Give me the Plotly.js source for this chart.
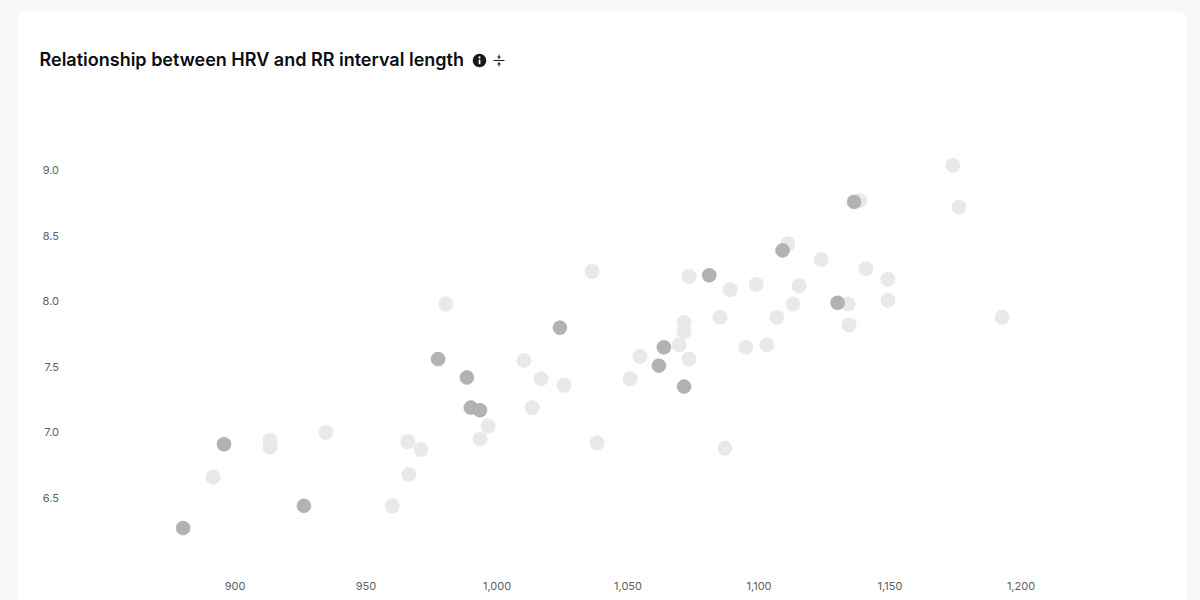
<!DOCTYPE html>
<html>
<head>
<meta charset="utf-8">
<script src="https://cdn.plot.ly/plotly-3.0.1.min.js"></script>
<style>
html,body{margin:0;padding:0;width:1200px;height:600px;overflow:hidden;background:#f8f8f8;}
#card{position:absolute;left:17px;top:11px;width:1170px;height:620px;background:#fff;border-radius:9px;}
#chart{position:absolute;left:0;top:0;width:1200px;height:600px;}
#icons{position:absolute;left:472px;top:53px;}
</style>
</head>
<body>
<div id="card"></div>
<div id="chart"></div>
<svg id="icons" width="36" height="16" viewBox="0 0 36 16">
  <circle cx="7.5" cy="7.5" r="6.8" fill="#14181f"/>
  <rect x="6.7" y="6.6" width="1.7" height="4.6" fill="#fff"/>
  <circle cx="7.5" cy="4.4" r="1.05" fill="#fff"/>
  <path d="M21.5 7.5H32.5" stroke="#222" stroke-width="1.1" fill="none"/>
  <path d="M27 1.5V5.5M27 13.5V9.5" stroke="#333" stroke-width="1" fill="none"/>
  <path d="M24.9 3.6L27 6L29.1 3.6ZM24.9 11.4L27 9L29.1 11.4Z" fill="#333"/>
</svg>
<script>
var titleText = "Relationship between HRV and RR interval length";
var xTicks = [900, 950, 1000, 1050, 1100, 1150, 1200];
var xTickLabels = ["900", "950", "1,000", "1,050", "1,100", "1,150", "1,200"];
var yTicks = [6.5, 7.0, 7.5, 8.0, 8.5, 9.0];
var yTickLabels = ["6.5", "7.0", "7.5", "8.0", "8.5", "9.0"];

var lightX = [891.6, 913.4, 913.4, 934.7, 960, 966, 966.4, 971, 980.5, 993.5, 996.6, 1010.3, 1013.4, 1016.8, 1025.6, 1036.3, 1038.2, 1050.8, 1054.6, 1069.5, 1071.4, 1071.4, 1073.3, 1073.3, 1085.1, 1087, 1089, 1095, 1098.9, 1103, 1106.9, 1111, 1113, 1115.3, 1123.7, 1134, 1134.4, 1138.5, 1140.8, 1149.2, 1149.2, 1174, 1176.3, 1192.8];
var lightY = [6.66, 6.94, 6.89, 7.0, 6.44, 6.93, 6.68, 6.87, 7.98, 6.95, 7.05, 7.55, 7.19, 7.41, 7.36, 8.23, 6.92, 7.41, 7.58, 7.67, 7.84, 7.77, 7.56, 8.19, 7.88, 6.88, 8.09, 7.65, 8.13, 7.67, 7.88, 8.44, 7.98, 8.12, 8.32, 7.98, 7.82, 8.77, 8.25, 8.17, 8.01, 9.04, 8.72, 7.88];
var darkX = [880.2, 895.8, 926.3, 977.5, 988.5, 990, 993.5, 1024, 1061.8, 1063.7, 1071.4, 1081, 1109, 1130, 1136.3];
var darkY = [6.27, 6.91, 6.44, 7.56, 7.42, 7.19, 7.17, 7.80, 7.51, 7.65, 7.35, 8.20, 8.39, 7.99, 8.76];

var font = "Inter, 'Noto Sans', sans-serif";
Plotly.newPlot("chart", [
  {type: "scatter", mode: "markers", x: lightX, y: lightY, hoverinfo: "x+y",
   marker: {size: 15, color: "#e9e9e9", line: {width: 0}}},
  {type: "scatter", mode: "markers", x: darkX, y: darkY, hoverinfo: "x+y",
   marker: {size: 14, color: "#b2b2b2", line: {width: 0.5, color: "#a4a4a4"}}}
], {
  width: 1200, height: 600,
  paper_bgcolor: "rgba(0,0,0,0)", plot_bgcolor: "rgba(0,0,0,0)",
  showlegend: false,
  margin: {l: 62, r: 13, t: 100, b: 25, pad: 0},
  font: {family: font},
  title: {text: titleText, xref: "container", yref: "container", x: 39.5/1200, xanchor: "left",
          y: 1 - 60/600, yanchor: "middle", font: {family: font, size: 18, weight: 600, color: "#0b0d12"}},
  xaxis: {range: [833.97, 1263.36], tickmode: "array", tickvals: xTicks, ticktext: xTickLabels,
          showgrid: false, zeroline: false, showline: false, ticks: "", ticklabelstandoff: 3,
          tickfont: {family: font, size: 11, color: "#606060"}},
  yaxis: {range: [5.912, 9.538], tickmode: "array", tickvals: yTicks, ticktext: yTickLabels,
          showgrid: false, zeroline: false, showline: false, ticks: "", ticklabelstandoff: 2,
          tickfont: {family: font, size: 11, color: "#606060"}}
}, {displayModeBar: false});
</script>
</body>
</html>
